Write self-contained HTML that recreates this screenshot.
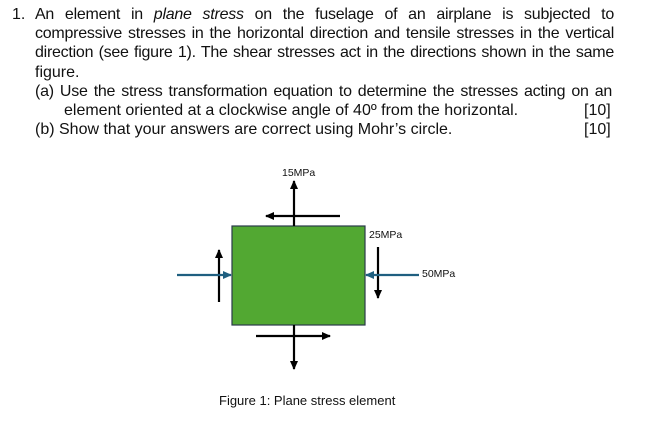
<!DOCTYPE html>
<html><head><style>
body{margin:0;width:659px;height:422px;background:#fff;position:relative;font-family:"Liberation Sans",Arial,sans-serif;font-size:16px;color:#111;overflow:hidden}
.l{position:absolute;white-space:nowrap;line-height:19px}
.j{text-align:justify;text-align-last:justify;white-space:normal;letter-spacing:-0.25px;height:19px;overflow:hidden}
.s{position:absolute;font-size:10.5px;font-family:"Liberation Sans",sans-serif}
</style></head><body>
<div class="l" style="left:12px;top:5px">1.</div>
<div class="l j" style="left:35px;top:5px;width:579px">An element in <i>plane stress</i> on the fuselage of an airplane is subjected to</div>
<div class="l j" style="left:35px;top:24px;width:579px">compressive stresses in the horizontal direction and tensile stresses in the vertical</div>
<div class="l j" style="left:35px;top:43px;width:579px">direction (see figure 1). The shear stresses act in the directions shown in the same</div>
<div class="l" style="left:35px;top:63px">figure.</div>
<div class="l j" style="left:35px;top:82px;width:577px">(a) Use the stress transformation equation to determine the stresses acting on an</div>
<div class="l" style="left:64px;top:101px">element oriented at a clockwise angle of 40º from the horizontal.</div>
<div class="l" style="left:584px;top:101px">[10]</div>
<div class="l" style="left:35px;top:120px">(b) Show that your answers are correct using Mohr’s circle.</div>
<div class="l" style="left:584px;top:120px">[10]</div>
<svg width="659" height="422" style="position:absolute;left:0;top:0">
<defs>
<marker id="a" markerWidth="9" markerHeight="8" refX="8" refY="4" orient="auto" markerUnits="userSpaceOnUse"><path d="M0,0L9,4L0,8z" fill="#000"/></marker>
<marker id="b" markerWidth="9" markerHeight="8" refX="8" refY="4" orient="auto" markerUnits="userSpaceOnUse"><path d="M0,0L9,4L0,8z" fill="#1f5f80"/></marker>
</defs>
<rect x="232" y="226" width="133" height="99" fill="#52a832" stroke="#2a3a4a" stroke-width="1.2"/>
<g stroke="#000" stroke-width="2.2" marker-end="url(#a)">
<line x1="294" y1="226" x2="294" y2="181"/>
<line x1="340" y1="216" x2="266" y2="216"/>
<line x1="294" y1="325" x2="294" y2="369"/>
<line x1="256" y1="336" x2="330" y2="336"/>
<line x1="219" y1="302" x2="219" y2="250"/>
<line x1="378" y1="247" x2="378" y2="298"/>
</g>
<g stroke="#1f5f80" stroke-width="2.2" marker-end="url(#b)">
<line x1="177" y1="275" x2="231" y2="275"/>
<line x1="419" y1="275" x2="366" y2="275"/>
</g>
</svg>
<div class="s" style="left:282px;top:167px">15MPa</div>
<div class="s" style="left:369px;top:229px">25MPa</div>
<div class="s" style="left:422px;top:268px">50MPa</div>
<div class="l" style="left:219px;top:391px;font-size:13px;font-family:'Liberation Sans',sans-serif">Figure 1: Plane stress element</div>
</body></html>
